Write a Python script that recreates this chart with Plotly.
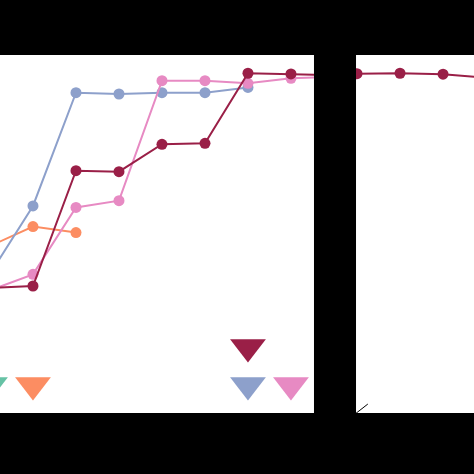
import plotly.graph_objects as go

# step index for every point (shared by both panels)
steps = list(range(12))

# series values (normalised score)
blue_vals = [0.1625, 0.446, 0.918, 0.9125, 0.918, 0.918, 0.940]
orange_vals = [0.279, 0.36, 0.335]
pink_vals = [0.094, 0.161, 0.44, 0.468, 0.968, 0.968, 0.957, 0.978, 0.985]
red_vals = [0.104, 0.1125, 0.593, 0.589, 0.703, 0.707, 0.999, 0.996,
            0.997, 0.999, 0.995, 0.98]

# downward triangle markers (step, level)
tri_steps = [0, 1, 6, 7, 6]
tri_levels = [-0.30, -0.30, -0.30, -0.30, -0.142]
tri_colors = ['#66c2a5', '#fc8d62', '#8da0cb', '#e78ac3', '#9a1f47']

GREEN, ORANGE, BLUE, PINK, RED = tri_colors

fig = go.Figure()


def add_line(xs, vals, color, xa='x', ya='y'):
    fig.add_trace(go.Scatter(
        x=xs, y=vals, mode='lines+markers',
        line=dict(color=color, width=2),
        marker=dict(color=color, size=11),
        xaxis=xa, yaxis=ya, showlegend=False))


add_line(steps[:3], orange_vals, ORANGE)
add_line(steps[:7], blue_vals, BLUE)
add_line(steps[:9], pink_vals, PINK)
add_line(steps, red_vals, RED)
add_line(steps[8:], red_vals[8:], RED, 'x2', 'y2')

fig.add_trace(go.Scatter(
    x=tri_steps, y=tri_levels, mode='markers',
    marker=dict(symbol='triangle-down', size=31, color=tri_colors,
                line=dict(width=0)),
    showlegend=False))

hidden = dict(showgrid=False, zeroline=False, showline=False,
              showticklabels=False, ticks='')
yr = [-0.4167, 1.075]

fig.update_layout(
    width=474, height=474, autosize=False,
    paper_bgcolor='black', plot_bgcolor='white',
    margin=dict(l=0, r=0, t=55, b=61),
    xaxis=dict(domain=[0, 0.6624], range=[0.233, 7.535], **hidden),
    yaxis=dict(range=yr, anchor='x', **hidden),
    xaxis2=dict(domain=[0.7511, 1], range=[7.977, 10.72], anchor='y2', **hidden),
    yaxis2=dict(range=yr, anchor='x2', **hidden),
    shapes=[dict(type='line', xref='paper', yref='paper',
                 x0=0.749, y0=-0.003, x1=0.776, y1=0.025,
                 line=dict(color='black', width=1))],
)

fig.write_html("out.html", config={'displayModeBar': False},
               post_script="document.body.style.margin='0';"
                           "document.body.style.background='black';")
